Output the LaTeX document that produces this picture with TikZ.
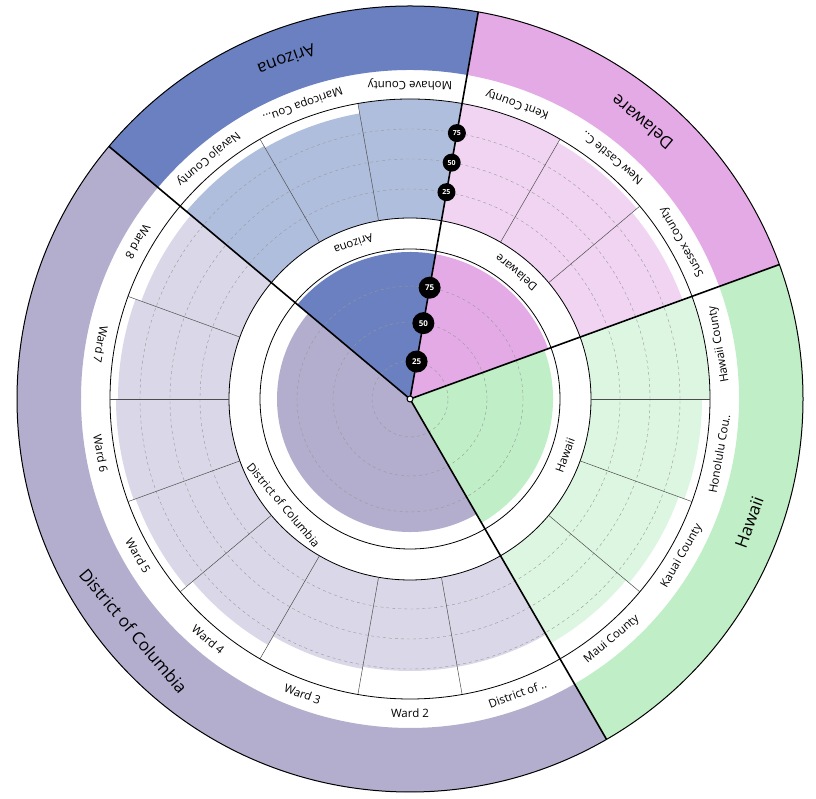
\documentclass[tikz,border=0pt]{standalone}
\usepackage{fontspec}
\setmainfont{Open Sans}
\definecolor{azD}{HTML}{6A80C0}\definecolor{azL}{HTML}{B0BEDE}
\definecolor{deD}{HTML}{E4AAE6}\definecolor{deL}{HTML}{F0D4F2}
\definecolor{hiD}{HTML}{C0EEC6}\definecolor{hiL}{HTML}{DCF6E1}
\definecolor{dcD}{HTML}{B3AECE}\definecolor{dcL}{HTML}{DAD8E8}
\newcommand{\sect}[5]{\fill[#1] (#2:#4) arc[start angle=#2,end angle=#3,radius=#4] -- (#3:#5) arc[start angle=#3,end angle=#2,radius=#5] -- cycle;}
\tikzset{lab/.style={font=\fontsize{11.5}{13}\selectfont,inner sep=0pt},
 big/.style={font=\fontsize{17}{19}\selectfont,inner sep=0pt},
 mid/.style={font=\fontsize{11.5}{13}\selectfont,inner sep=0pt},
 tick/.style={circle,fill=black,inner sep=0pt,minimum size=#1,text=white,font=\bfseries\fontsize{8}{9}\selectfont},
 tick/.default=20pt}
\begin{document}
\begin{tikzpicture}[x=1pt,y=1pt]
\useasboundingbox (0,0) rectangle (816,799);
\begin{scope}[shift={(410,400)}]
\coordinate (c) at (0,0);
% outer band
\sect{azD}{80}{140}{329}{393}
\sect{dcD}{140}{300}{329}{393}
\sect{hiD}{300}{380}{329}{393}
\sect{deD}{20}{80}{329}{393}
% county wedges
\foreach \a/\r/\col in {80/300/azL,100/290/azL,120/292/azL,
 140/286/dcL,160/292/dcL,180/294/dcL,200/292/dcL,220/284/dcL,240/274/dcL,260/272/dcL,280/272/dcL,
 300/282/hiL,320/286/hiL,340/292/hiL,360/300/hiL,
 20/290/deL,40/296/deL,60/300/deL}
 {\pgfmathsetmacro{\b}{\a+20}\sect{\col}{\a}{\b}{181}{\r}}
% inner pie
\sect{azD}{80}{140}{0}{147}
\sect{dcD}{140}{300}{0}{133}
\sect{hiD}{300}{380}{0}{143}
\sect{deD}{20}{80}{0}{147}
% dashed rings
\foreach \r in {38,77,113,210,240,270} \draw[gray!80,dashed,thin] (c) circle[radius=\r];
% circles
\foreach \r in {150,181,300} \draw[black,line width=0.8pt] (c) circle[radius=\r];
\draw[black,line width=1pt] (c) circle[radius=393];
% county separators
\foreach \a in {100,120,160,180,200,220,240,260,280,320,340,0,40,60}
 \draw[gray!60!black,line width=0.5pt] (\a:181) -- (\a:300);
% state boundaries
\foreach \a in {80,140,300,20} \draw[black,line width=1.6pt] (c) -- (\a:393);
% county labels
\foreach \a/\t [count=\i] in {90/{Mohave County},110/{Maricopa Cou{.}{.}{.}},130/{Navajo County},
 150/{Ward 8},170/{Ward 7},190/{Ward 6},210/{Ward 5},230/{Ward 4},250/{Ward 3},270/{Ward 2},290/{District of {.}{.}},
 310/{Maui County},330/{Kauai County},350/{Honolulu Cou{.}{.}},370/{Hawaii County},
 30/{Sussex County},50/{New Castle C{.}{.}},70/{Kent County}}
 \node[lab,rotate=\a+90] (cl\i) at (\a:314) {\t};
% inner state labels
\foreach \a/\t [count=\i] in {110/Arizona,220/District of Columbia,340/Hawaii,50/Delaware}
 \node[mid,rotate=\a+90] (sl\i) at (\a:165) {\t};
% outer state labels
\foreach \a/\t [count=\i] in {110/Arizona,220/District of Columbia,340/Hawaii,50/Delaware}
 \node[big,rotate=\a+90] (ol\i) at (\a:361) {\t};
% ticks
\node[tick=22pt] (t1) at (80:38) {25};
\node[tick=22pt] (t2) at (80:77) {50};
\node[tick=22pt] (t3) at (80:113) {75};
\node[tick=18pt,font=\bfseries\fontsize{7}{8}\selectfont] (t4) at (80:210) {25};
\node[tick=18pt,font=\bfseries\fontsize{7}{8}\selectfont] (t5) at (80:240) {50};
\node[tick=18pt,font=\bfseries\fontsize{7}{8}\selectfont] (t6) at (80:270) {75};
\node[circle,draw=black,fill=white,line width=1pt,inner sep=0pt,minimum size=6pt] (ctr) at (c) {};
\end{scope}
\end{tikzpicture}
\end{document}
